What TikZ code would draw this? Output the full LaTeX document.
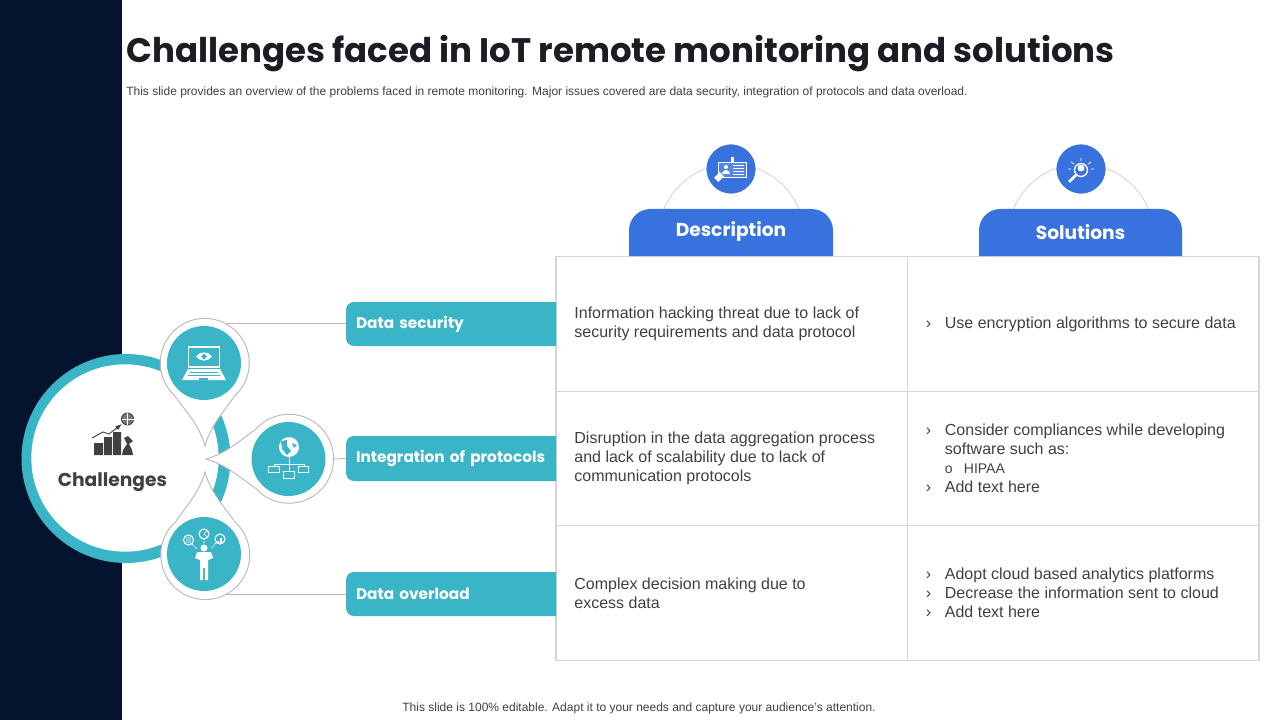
\documentclass[tikz,border=0pt]{standalone}
\usepackage{fontspec}
\setmainfont{Liberation Sans}
\newfontfamily\headfont{Poppins}
\usepackage{xcolor}
\usetikzlibrary{arrows.meta,positioning}
\definecolor{navybar}{HTML}{04132E}
\definecolor{tealfill}{HTML}{3AB5C8}
\definecolor{bluefill}{HTML}{3872DE}
\definecolor{gridgrey}{HTML}{D3D7DB}
\definecolor{pingrey}{HTML}{BDB8B8}
\definecolor{inkdark}{HTML}{404040}
\definecolor{titleink}{HTML}{1C1C24}
\newcommand{\itm}{\makebox[14.25pt][l]{›}}
\newcommand{\ind}{\hspace*{14.25pt}}

\begin{document}
\begin{tikzpicture}[
  x=0.75pt,y=-0.75pt,
  cell/.style={draw=gridgrey,line width=0.8pt,minimum width=263.6pt,minimum height=100.9pt,inner sep=0pt},
  celltext/.style={align=left,inner sep=0pt,text=inkdark,font=\fontsize{12}{14.25}\selectfont},
  tabhead/.style={minimum width=153pt,minimum height=35.25pt,inner sep=0pt,text=white,font=\headfont\bfseries\fontsize{14}{16}\selectfont},
  lblbox/.style={minimum height=33pt,text width=142.5pt,inner sep=7.5pt,align=left,text=white,font=\headfont\bfseries\fontsize{11.5}{14}\selectfont},
  tealdot/.style={circle,fill=tealfill,minimum size=55.5pt,inner sep=0pt},
  bluedot/.style={circle,fill=bluefill,draw=white,line width=1pt,minimum size=38pt,inner sep=0pt},
  pinhead/.style={circle,minimum size=66.75pt,inner sep=0pt},
  feeder/.style={draw=pingrey,line width=0.7pt},
  arcline/.style={draw=gridgrey,line width=0.7pt},
  iconw/.style={draw=white,line width=0.6pt},
  pics/pindrop/.style={code={
    \draw[fill=white,draw=pingrey,line width=0.7pt] (0,83) .. controls (-6,62) and (-18,50) .. (-30,33)
      arc[start angle=132,end angle=408,radius=44.5] .. controls (18,50) and (6,62) .. (0,83) -- cycle;
  }}
]
\useasboundingbox (0,0) rectangle (1280,720);

% --- Sidebar and header text ---
\fill[navybar] (0,0) rectangle (122,720);
\node[anchor=base west,inner sep=0pt,text=titleink,font=\headfont\bfseries\fontsize{25.5}{30}\selectfont] (title) at (126,63)
  {Challenges faced in IoT remote monitoring and solutions};
\node[anchor=base west,inner sep=0pt,text=inkdark,font=\fontsize{9}{11}\selectfont] (subtitle) at (126,96)
  {This slide provides an overview of the problems faced in remote monitoring. Major issues covered are data security, integration of protocols and data overload.};
\node[inner sep=0pt,text=inkdark,font=\fontsize{9}{11}\selectfont] (footer) at (639,708)
  {This slide is 100\% editable. Adapt it to your needs and capture your audience's attention.};

% --- Table (grid layout) ---
\node[cell] (cellAa) at (731.75,324) {};
\node[cell] (cellAb) at (1083.25,324) {};
\node[cell] (cellBa) at (731.75,458.5) {};
\node[cell] (cellBb) at (1083.25,458.5) {};
\node[cell] (cellCa) at (731.75,593) {};
\node[cell] (cellCb) at (1083.25,593) {};

\node[celltext,right=14pt of cellAa.west] (txtAa) {Information hacking threat due to lack of\\security requirements and data protocol};
\node[celltext,right=14pt of cellAb.west] (txtAb) {\itm Use encryption algorithms to secure data};
\node[celltext,right=14pt of cellBa.west] (txtBa) {Disruption in the data aggregation process\\and lack of scalability due to lack of\\communication protocols};
\node[celltext,right=14pt of cellBb.west] (txtBb) {\itm Consider compliances while developing\\\ind software such as:\\\ind\makebox[14.25pt][l]{\fontsize{10.5}{14.25}\selectfont o}{\fontsize{10.5}{14.25}\selectfont HIPAA}\\\itm Add text here};
\node[celltext,right=14pt of cellCa.west] (txtCa) {Complex decision making due to\\excess data};
\node[celltext,right=14pt of cellCb.west] (txtCb) {\itm Adopt cloud based analytics platforms\\\itm Decrease the information sent to cloud\\\itm Add text here};

% --- Column heads ---
\coordinate (arcA) at (664,209);
\coordinate (arcB) at (1013.5,209);
\draw[arcline] (arcA) arc[start angle=202.5,end angle=337.5,radius=73];
\draw[arcline] (arcB) arc[start angle=202.5,end angle=337.5,radius=73];
\fill[bluefill,rounded corners=16pt] (629,256) -- (629,209) -- (833,209) -- (833,256);
\fill[bluefill,rounded corners=16pt] (979,256) -- (979,209) -- (1182,209) -- (1182,256);
\node[tabhead] (tabA) at (731,232) {Description};
\node[tabhead] (tabB) at (1080.5,232) {Solutions};
\node[bluedot] (iconA) at (731,169) {};
\node[bluedot] (iconB) at (1081,169) {};

% id card
\draw[iconw,fill=white,fill opacity=0.15] (718,162) rectangle (746,177);
\fill[white] (730.5,157) rectangle (733.5,162);
\fill[white] (726,167) circle[radius=2];
\fill[white] (722,174) arc[start angle=180,end angle=360,radius=4] -- cycle;
\draw[iconw,line width=0.5pt] (733,165) -- (744,165) (733,168) -- (744,168) (733,171) -- (744,171) (733,174) -- (744,174);
\fill[white,rotate around={45:(719,177)}] (715,174) rectangle (723,180);

% bulb and magnifier
\draw[white,line width=1pt] (1081,170) circle[radius=6.5];
\fill[white] (1081,168) circle[radius=3.5];
\draw[white,line width=2pt] (1076,175) -- (1069,182);
\draw[white,line width=0.6pt] (1081,158) -- (1081,161) (1071,162) -- (1074,164) (1091,162) -- (1088,164) (1068,169) -- (1071,169) (1094,169) -- (1091,169);

% --- Hub ring ---
\node[circle,fill=tealfill,minimum size=156.75pt,inner sep=0pt] (ring) at (126,458.5) {};
\node[circle,fill=white,minimum size=140.5pt,inner sep=0pt] (hub) at (125,458) {};
\node[inner sep=0pt,text=inkdark,font=\headfont\bfseries\fontsize{14}{16}\selectfont] (hublbl) at (112.5,482) {Challenges};

% chart and knight
\fill[inkdark] (94,443) rectangle (103,455) (104,437) rectangle (112,455) (113,432) rectangle (121,455);
\fill[inkdark] (122,455) -- (133,455) -- (132,450) -- (129,444) -- (133,441) -- (128,436) -- (124,438) -- (127,444) -- (123,450) -- cycle;
\draw[inkdark,line width=0.7pt,-{Latex[length=5pt]}] (92,438) -- (103,432) -- (109,434) -- (122,424);
\draw[inkdark,line width=0.7pt,fill=inkdark!70] (127.5,419) circle[radius=6];
\draw[white,line width=0.4pt] (121.5,419) -- (133.5,419) (127.5,413) -- (127.5,425);

% --- Labels ---
\fill[tealfill,rounded corners=6pt] (556,302) -- (346,302) -- (346,346) -- (556,346);
\fill[tealfill,rounded corners=6pt] (556,436) -- (346,436) -- (346,481) -- (556,481);
\fill[tealfill,rounded corners=6pt] (556,572) -- (346,572) -- (346,616) -- (556,616);
\node[lblbox] (lblA) at (451,324) {Data security};
\node[lblbox] (lblB) at (451,458.5) {Integration of protocols};
\node[lblbox] (lblC) at (451,594) {Data overload};

% --- Pins ---
\node[pinhead] (pinA) at (205,363) {};
\node[pinhead] (pinB) at (289,459) {};
\node[pinhead] (pinC) at (205,555) {};

\draw[feeder] (pinA.61) -- (pinA.61 -| lblA.west);
\draw[feeder] (pinB.east) -- (lblB.west);
\draw[feeder] (pinC.-61) -- (pinC.-61 -| lblC.west);

\pic at (pinA) {pindrop};
\pic[rotate=-90] at (pinB) {pindrop};
\pic[rotate=180] at (pinC) {pindrop};

\node[tealdot] (dotA) at (204,363) {};
\node[tealdot] (dotB) at (288.5,459) {};
\node[tealdot] (dotC) at (204,554) {};

% laptop
\draw[white,line width=0.8pt] (188.5,347) rectangle (219.5,367);
\fill[white] (188,369) -- (220,369) -- (226,380) -- (182,380) -- cycle;
\draw[tealfill,line width=0.4pt] (190,372) -- (218,372) (188,375) -- (220,375);
\fill[tealfill] (199,377.5) rectangle (208,380);
\fill[white] (196,356.5) .. controls (200,351) and (208,351) .. (212,356.5) .. controls (208,362) and (200,362) .. (196,356.5) -- cycle;
\fill[tealfill] (204,353.5) -- (207,356.5) -- (204,359.5) -- (201,356.5) -- cycle;

% globe network
\fill[white] (289,447) circle[radius=10];
\fill[tealfill] (281,441) -- (287,440) -- (287,446) -- (291,451) -- (287,455) -- (282,449) -- cycle;
\fill[tealfill] (292,443) -- (297,445) -- (294,448) -- cycle;
\draw[white,line width=0.6pt] (289,457) -- (289,471) (274,464) -- (304,464) (274,464) -- (274,466) (304,464) -- (304,466);
\draw[white,line width=0.6pt] (268.5,466) rectangle (279,472) (283.5,471) rectangle (294,478) (298.5,466) rectangle (308.5,472);

% person with bubbles
\fill[white] (204,548) circle[radius=3.5];
\fill[white] (195,558) -- (197,552) -- (211,552) -- (213,558) -- (208,560) -- (208,580) -- (205,580) -- (205,568) -- (203,568) -- (203,580) -- (200,580) -- (200,560) -- cycle;
\draw[white,line width=0.8pt] (188.5,540) circle[radius=5] (204,534) circle[radius=5] (220,539) circle[radius=5];
\draw[white,line width=0.5pt] (186,538) -- (191,538) (186,540) -- (191,540) (186,542) -- (191,542) (204,534) -- (207,531) (204,534) -- (207,537);
\fill[white] (217,541) rectangle (219,543) (220,538) rectangle (222,543);
\draw[white,line width=0.8pt,dash pattern=on 1pt off 1pt] (192,544) -- (197,549) (204,539) -- (204,544) (216,543) -- (211,549);
\end{tikzpicture}
\end{document}
